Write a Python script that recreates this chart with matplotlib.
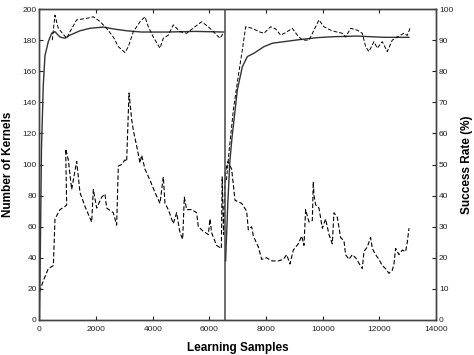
import numpy as np
import matplotlib.pyplot as plt

plt.rcParams['font.family'] = ['Liberation Sans', 'DejaVu Sans']

# number of kernels (left axis)
kern_x = [0, 130, 310, 490, 547, 725, 900, 960, 924, 1018, 1136, 1313, 1430, 1606, 1842, 1900,
          2019, 2195, 2312, 2371, 2606, 2724, 2783, 2900, 3018, 3077, 3160, 3254, 3313, 3430,
          3548, 3606, 3724, 3900, 4077, 4253, 4371, 4430, 4548, 4724, 4842, 4960, 5054, 5113,
          5195, 5371, 5548, 5607, 5783, 5960, 6019, 6078, 6250, 6420, 6450, 6500, 6560, 6650,
          6784, 6901, 7017, 7137, 7313, 7372, 7490, 7549, 7725, 7843, 8019, 8196, 8431, 8607,
          8725, 8843, 8960, 9137, 9255, 9337, 9395, 9513, 9631, 9666, 9690, 9749, 9866, 9984,
          10101, 10219, 10336, 10395, 10513, 10630, 10748, 10807, 10925, 11042, 11160, 11395,
          11454, 11571, 11689, 11748, 11866, 11983, 12101, 12219, 12336, 12454, 12513, 12572,
          12690, 12807, 12925, 12984, 13043]
kern_y = [18, 25, 33, 35, 65, 71, 73, 74, 110, 103, 84, 102, 82, 73, 63, 84,
          72, 79, 81, 72, 69, 61, 99, 100, 103, 102, 146, 129, 122, 112,
          101, 106, 97, 90, 82, 75, 92, 75, 71, 62, 69, 56, 52, 79,
          71, 71, 69, 60, 57, 55, 65, 56, 48, 46, 92, 55, 95, 102,
          97, 77, 76, 75, 70, 58, 60, 54, 47, 39, 40, 38, 38, 39,
          42, 36, 45, 49, 54, 48, 71, 63, 64, 89, 80, 74, 72, 59,
          65, 55, 49, 69, 66, 53, 51, 42, 39, 42, 40, 33,
          44, 47, 53, 46, 42, 39, 35, 33, 30, 32, 36, 46,
          42, 45, 44, 50, 59]

# cumulative success rate, segment 1 and 2 (right axis, %)
cum1_x = [0, 40, 70, 134, 194, 310, 430, 547, 724, 900, 1077, 1430, 1783, 2253, 2606, 3077,
          3600, 4500, 5500, 6500]
cum1_y = [0, 30, 55, 75.6, 85, 89.5, 92.2, 92.7, 91, 90.6, 91.6, 93, 93.8, 94.2, 93.6, 93,
          92.6, 92.6, 92.8, 92.6]
cum2_x = [6570, 6650, 6720, 6800, 6866, 6984, 7160, 7337, 7572, 7925, 8219, 8631, 9219, 9807,
          10396, 11219, 12160, 13040]
cum2_y = [19, 38, 51, 59, 64.3, 74, 81.4, 84.7, 85.8, 87.9, 89, 89.5, 90.2, 90.8,
          91.1, 91.3, 90.9, 90.9]

# windowed success rate, segment 1 and 2 (right axis, %)
win1_x = [450, 547, 664, 960, 1077, 1313, 1666, 1901, 2135, 2371, 2606, 2783, 3018, 3136,
          3312, 3548, 3724, 3842, 4018, 4253, 4371, 4548, 4724, 4960, 5195, 5489, 5724, 5960,
          6195, 6371, 6489]
win1_y = [90, 98, 93.8, 90.6, 92.7, 96.5, 97, 97.5, 96, 93.8, 91, 87.9, 86, 87.9,
          92.7, 95.9, 97.5, 94.3, 91, 87.4, 90.6, 91.6, 94.9, 92.7, 92.2, 94.3, 95.9, 94.3,
          92.2, 90.6, 92.2]
win2_x = [6600, 6700, 6850, 7040, 7160, 7278, 7513, 7749, 7925, 8160, 8336, 8513, 8690, 8925,
          9101, 9278, 9513, 9690, 9866, 10042, 10278, 10454, 10689, 10807, 10984, 11219, 11395,
          11513, 11630, 11807, 11925, 12101, 12277, 12454, 12630, 12866, 12984, 13078]
win2_y = [45, 55, 68, 79.8, 86.8, 94.3, 93.8, 92.7, 92.2, 94.3, 93.6, 91.6, 92.4, 93.8,
          91.6, 90, 90, 93.2, 96.5, 94.3, 93.2, 92.7, 92.2, 91, 93.8, 93.2, 92.2,
          87.9, 86.3, 89.5, 87.4, 89.5, 86.3, 90, 91, 92.2, 91.5, 93.8]

split_x = 6550

fig = plt.figure(figsize=(4.74, 3.55), dpi=100)
ax = fig.add_axes([0.0833, 0.0986, 0.8367, 0.876])
ax2 = ax.twinx()

ax.plot(kern_x, kern_y, color='black', lw=0.8, ls=(0, (4, 2)))
ax.axvline(split_x, color='#555555', lw=1.2)

ax2.plot(cum1_x, cum1_y, color='#333333', lw=1.0)
ax2.plot(cum2_x, cum2_y, color='#333333', lw=1.0)
ax2.plot(win1_x, win1_y, color='black', lw=0.7, ls=(0, (4, 2)))
ax2.plot(win2_x, win2_y, color='black', lw=0.7, ls=(0, (4, 2)))

ax.set_xlim(0, 14000)
ax.set_ylim(0, 200)
ax2.set_ylim(0, 100)
ax.set_xticks(np.arange(0, 14001, 2000))
ax.set_yticks(np.arange(0, 201, 20))
ax2.set_yticks(np.arange(0, 101, 10))

ax.tick_params(direction='in', length=3, labelsize=6, top=True, pad=2, colors='#222222')
ax.tick_params(axis='x', pad=4)
ax2.tick_params(direction='in', length=3, labelsize=6, pad=2, colors='#222222')
for a in (ax, ax2):
    for s in a.spines.values():
        s.set_color('#444444')
        s.set_linewidth(1.0)

ax.set_xlabel('Learning Samples', fontsize=8.5, fontweight='bold', labelpad=7)
ax.set_ylabel('Number of Kernels', fontsize=8.5, fontweight='bold', labelpad=6)
ax2.set_ylabel('Success Rate (%)', fontsize=8.5, fontweight='bold', rotation=90, labelpad=6)

fig.savefig('out.png', dpi=100)
